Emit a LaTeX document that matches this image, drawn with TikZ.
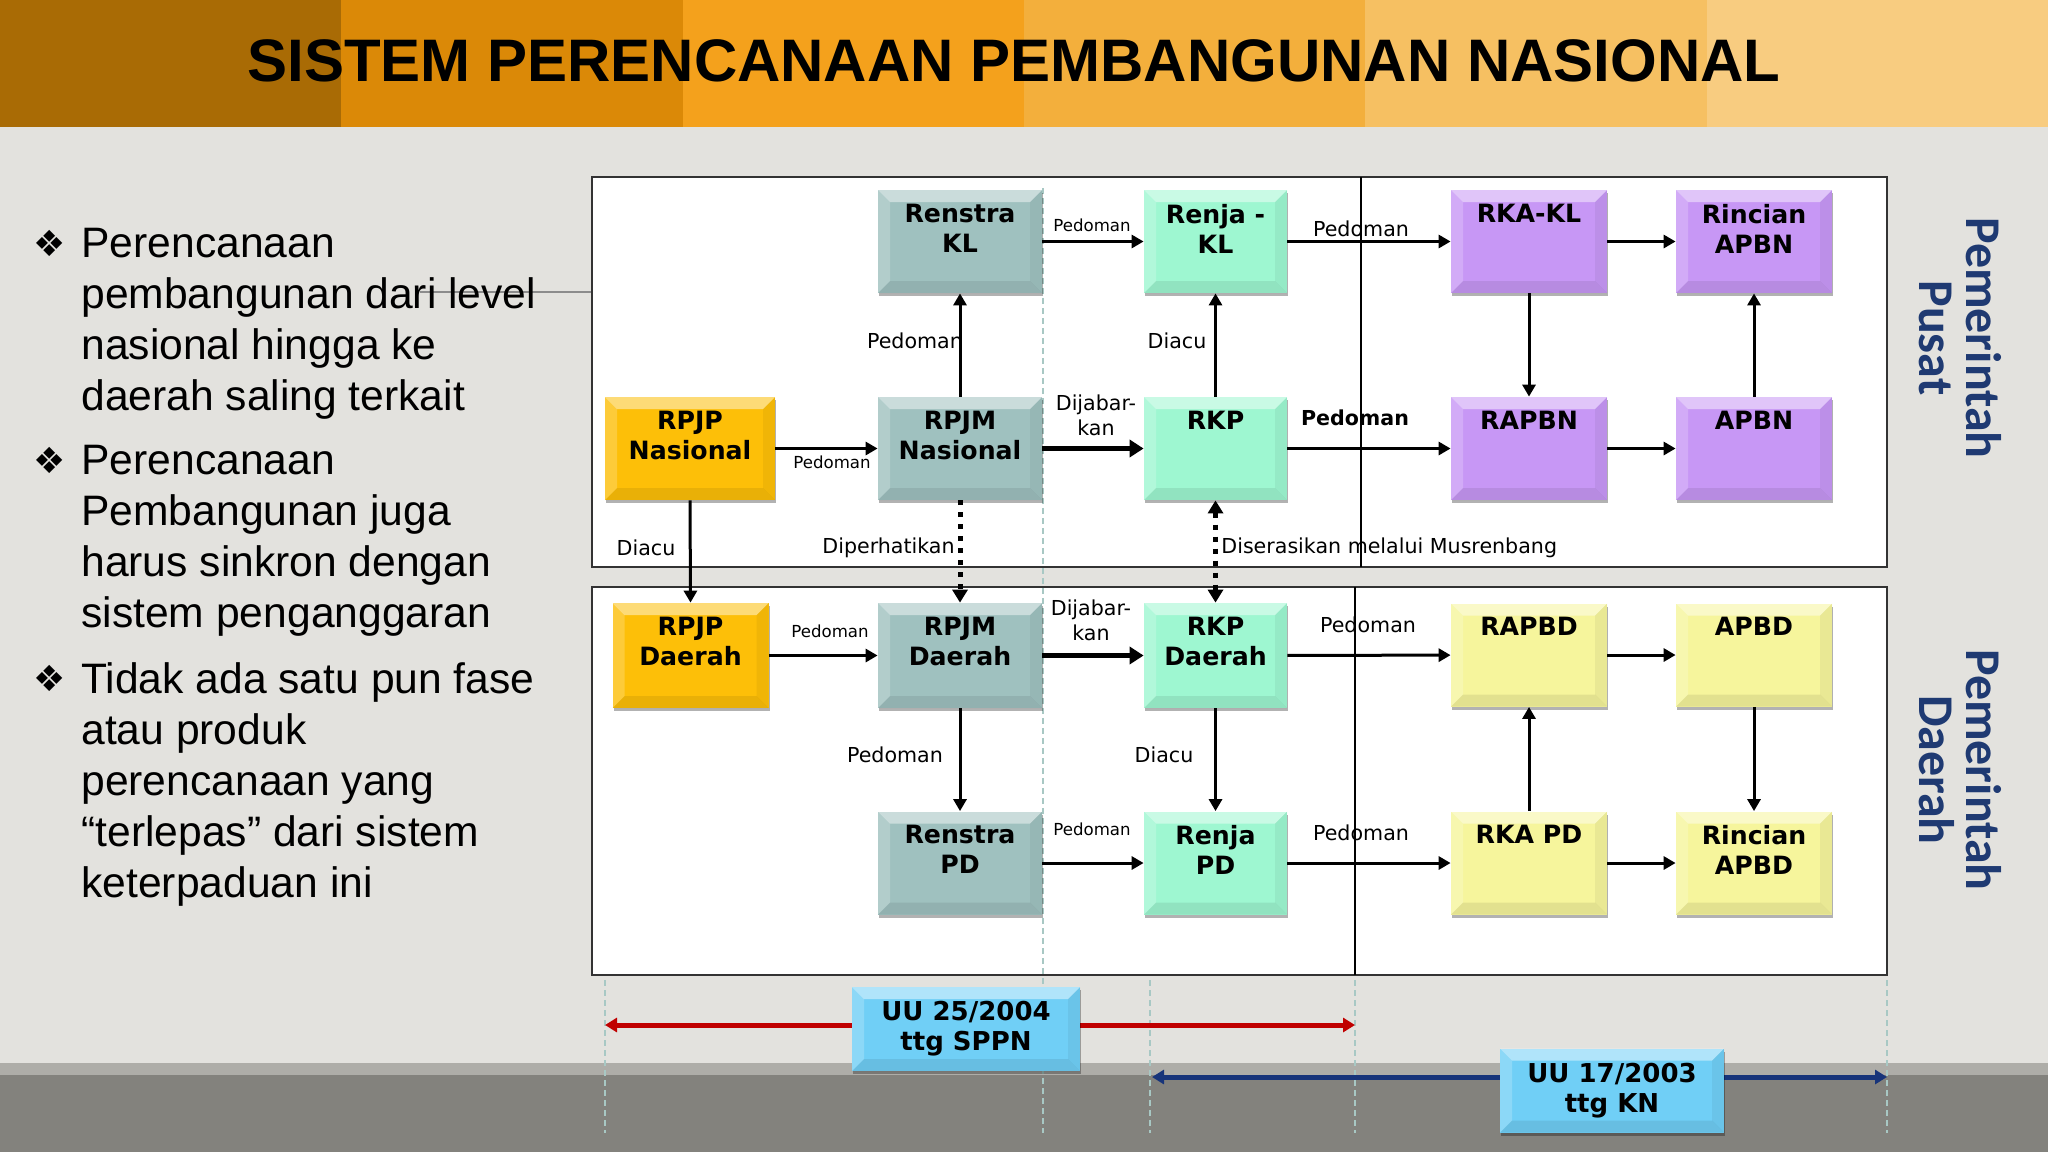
\documentclass[tikz,border=0pt]{standalone}
\usepackage{fontspec}
\setmainfont{DejaVu Sans}
\newfontfamily\arialfont{Liberation Sans}
\newfontfamily\sidefont{Carlito}
\usetikzlibrary{arrows.meta,shadows}

\definecolor{bandA}{HTML}{A96B05}
\definecolor{bandB}{HTML}{DB8907}
\definecolor{bandC}{HTML}{F4A11C}
\definecolor{bandD}{HTML}{F3AF3C}
\definecolor{bandE}{HTML}{F6C062}
\definecolor{bandF}{HTML}{F8CC80}
\definecolor{bggray}{HTML}{E3E2DE}
\definecolor{footlight}{HTML}{AEADA8}
\definecolor{footdark}{HTML}{83827D}
\definecolor{goldbox}{HTML}{FDBF08}
\definecolor{tealbox}{HTML}{9FC1BF}
\definecolor{mintbox}{HTML}{9EF7D1}
\definecolor{lilabox}{HTML}{C797F5}
\definecolor{lemonbox}{HTML}{F6F59C}
\definecolor{skybox}{HTML}{70CFF6}
\definecolor{navytxt}{HTML}{1F3A72}
\definecolor{guide}{HTML}{A8C8C4}
\definecolor{redarr}{HTML}{C00000}
\definecolor{bluearr}{HTML}{17347A}

\tikzset{
  bevel/.style={path picture={
      \fill[white,opacity=.45] (path picture bounding box.north west) -- (path picture bounding box.north east)
        -- ([shift={(-6pt,-6pt)}]path picture bounding box.north east) -- ([shift={(6pt,-6pt)}]path picture bounding box.north west) -- cycle;
      \fill[white,opacity=.2] (path picture bounding box.north west) -- ([shift={(6pt,-6pt)}]path picture bounding box.north west)
        -- ([shift={(6pt,6pt)}]path picture bounding box.south west) -- (path picture bounding box.south west) -- cycle;
      \fill[black,opacity=.05] (path picture bounding box.north east) -- ([shift={(-6pt,-6pt)}]path picture bounding box.north east)
        -- ([shift={(-6pt,6pt)}]path picture bounding box.south east) -- (path picture bounding box.south east) -- cycle;
      \fill[black,opacity=.08] (path picture bounding box.south west) -- (path picture bounding box.south east)
        -- ([shift={(-6pt,6pt)}]path picture bounding box.south east) -- ([shift={(6pt,6pt)}]path picture bounding box.south west) -- cycle;
  }},
  box/.style={rectangle, fill=#1, bevel, inner sep=0pt, minimum height=51.5pt,
    drop shadow={shadow xshift=0.6pt, shadow yshift=-1.6pt, opacity=0.3, fill=black}},
  boxN/.style={minimum width=82pt},
  boxR/.style={minimum width=71.5pt},
  boxB/.style={minimum width=78pt},
  boxlbl/.style={anchor=north, yshift=-7pt, align=center, inner sep=0pt,
    font=\bfseries\fontsize{12.6}{15}\selectfont},
  uubox/.style={box=skybox, minimum height=42pt, align=center,
    font=\bfseries\fontsize{13}{15}\selectfont},
  arr/.style={-{Triangle[length=6pt,width=6.5pt]}, line width=1.5pt},
  arrthick/.style={-{Triangle[length=7pt,width=8.5pt]}, line width=2.6pt},
  arrdot/.style={-{Triangle[length=6.5pt,width=7.5pt]}, line width=2.5pt, dash pattern=on 2.5pt off 3.5pt},
  lbl/.style={inner sep=0pt, font=\fontsize{10.3}{12.5}\selectfont},
  lblsm/.style={inner sep=0pt, font=\fontsize{8.3}{10}\selectfont},
  panel/.style={draw=black!80, line width=1pt, fill=white},
  guideline/.style={draw=guide, line width=0.6pt, dash pattern=on 3pt off 2pt},
  bullettxt/.style={anchor=north west, inner sep=0pt, align=left,
    font=\arialfont\fontsize{21.3}{25.5}\selectfont},
  bul/.style={inner sep=0pt, font=\fontsize{18}{18}\selectfont},
  sidelbl/.style={rotate=-90, align=center, inner sep=0pt, text=navytxt,
    font=\sidefont\bfseries\fontsize{25}{23.5}\selectfont},
}

\begin{document}
\begin{tikzpicture}[x=0.5pt,y=-0.5pt]
  \useasboundingbox (0,0) rectangle (2048,1152);
  % background and title band
  \fill[bggray] (0,0) rectangle (2048,1152);
  \fill[footlight] (0,1063) rectangle (2048,1075);
  \fill[footdark] (0,1075) rectangle (2048,1152);
  \foreach \c [count=\i from 0] in {bandA,bandB,bandC,bandD,bandE,bandF}
    \fill[\c] (341.33*\i,0) rectangle (341.33*\i+341.33,127);
  \node[font=\arialfont\bfseries\fontsize{30}{30}\selectfont, inner sep=0pt] (title) at (1014,61)
    {SISTEM PERENCANAAN PEMBANGUNAN NASIONAL};

  % left text
  \draw[black!45, line width=0.6pt] (420,292) -- (592,292);
  \node[bul] (bulA) at (50,243) {❖};
  \node[bul] (bulB) at (50,460) {❖};
  \node[bul] (bulC) at (50,678) {❖};
  \node[bullettxt] (txtA) at (81,228) {Perencanaan\\pembangunan dari level\\nasional hingga ke\\daerah saling terkait};
  \node[bullettxt] (txtB) at (81,445) {Perencanaan\\Pembangunan juga\\harus sinkron dengan\\sistem penganggaran};
  \node[bullettxt] (txtC) at (81,662) {Tidak ada satu pun fase\\atau produk\\perencanaan yang\\“terlepas” dari sistem\\keterpaduan ini};

  % panels
  \draw[panel] (592,177) rectangle (1887,567);
  \draw[panel] (592,587) rectangle (1887,975);
  \draw[black, line width=0.6pt] (1361,177) -- (1361,567);
  \draw[black, line width=0.6pt] (1355,587) -- (1355,975);
  \draw[guideline] (1043,188) -- (1043,1133);
  \foreach \gx in {605,1150,1355,1887}
    \draw[guideline] (\gx,980) -- (\gx,1133);

  \node[sidelbl] (sideP) at (1960,338) {Pemerintah\\Pusat};
  \node[sidelbl] (sideD) at (1960,770) {Pemerintah\\Daerah};

  % boxes, pusat
  \node[box=goldbox, minimum width=85pt, label={[boxlbl]north:RPJP\\Nasional}] (rpjpN) at (690,448.5) {};
  \node[box=tealbox, boxN, label={[boxlbl]north:RPJM\\Nasional}] (rpjmN) at (960,448.5) {};
  \node[box=tealbox, boxN, label={[boxlbl]north:Renstra\\KL}] (renstraKL) at (960,241.5) {};
  \node[box=mintbox, boxR, label={[boxlbl]north:Renja -\\KL}] (renjaKL) at (1215.5,241.5) {};
  \node[box=mintbox, boxR, label={[boxlbl]north:RKP}] (rkp) at (1215.5,448.5) {};
  \node[box=lilabox, boxB, label={[boxlbl]north:RKA-KL}] (rkakl) at (1529,241.5) {};
  \node[box=lilabox, boxB, label={[boxlbl]north:Rincian\\APBN}] (rincianN) at (1754,241.5) {};
  \node[box=lilabox, boxB, label={[boxlbl]north:RAPBN}] (rapbn) at (1529,448.5) {};
  \node[box=lilabox, boxB, label={[boxlbl]north:APBN}] (apbn) at (1754,448.5) {};

  % boxes, daerah
  \node[box=goldbox, boxB, minimum height=52.5pt, label={[boxlbl]north:RPJP\\Daerah}] (rpjpD) at (690.5,655.5) {};
  \node[box=tealbox, boxN, minimum height=52.5pt, label={[boxlbl]north:RPJM\\Daerah}] (rpjmD) at (960,655.5) {};
  \node[box=tealbox, boxN, label={[boxlbl]north:Renstra\\PD}] (renstraPD) at (960,863) {};
  \node[box=mintbox, boxR, minimum height=52.5pt, label={[boxlbl]north:RKP\\Daerah}] (rkpD) at (1215.5,655.5) {};
  \node[box=mintbox, boxR, label={[boxlbl]north:Renja\\PD}] (renjaPD) at (1215.5,863) {};
  \node[box=lemonbox, boxB, label={[boxlbl]north:RAPBD}] (rapbd) at (1529,655) {};
  \node[box=lemonbox, boxB, label={[boxlbl]north:APBD}] (apbd) at (1754,655) {};
  \node[box=lemonbox, boxB, label={[boxlbl]north:RKA PD}] (rkapd) at (1529,863) {};
  \node[box=lemonbox, boxB, label={[boxlbl]north:Rincian\\APBD}] (rincianD) at (1754,863) {};

  % connectors, pusat
  \draw[arr] (rpjpN) -- (rpjmN);
  \draw[arr] (rpjmN) -- (renstraKL);
  \draw[arr] (renstraKL) -- (renjaKL);
  \draw[arr] (rkp) -- (renjaKL);
  \draw[arrthick] (rpjmN) -- (rkp);
  \draw[arr] (renjaKL) -- (rkakl);
  \draw[arr] (rkp) -- (rapbn);
  \draw[arr] (rkakl) -- (rincianN);
  \draw[arr] (rkakl) -- (rapbn);
  \draw[arr] (rapbn) -- (apbn);
  \draw[arr] (apbn) -- (rincianN);
  % between the levels
  \draw[arr] (rpjpN.south) -- (rpjpD.north);
  \draw[arrdot] (rpjmN) -- (rpjmD);
  \draw[arrdot, {Triangle[length=6.5pt,width=7.5pt]}-{Triangle[length=6.5pt,width=7.5pt]}] (rkp) -- (rkpD);
  % connectors, daerah
  \draw[arr] (rpjpD) -- (rpjmD);
  \draw[arrthick] (rpjmD) -- (rkpD);
  \draw[arr] (rkpD) -- (rapbd);
  \draw[arr] (rpjmD) -- (renstraPD);
  \draw[arr] (rkpD) -- (renjaPD);
  \draw[arr] (renstraPD) -- (renjaPD);
  \draw[arr] (renjaPD) -- (rkapd);
  \draw[arr] (rkapd) -- (rapbd);
  \draw[arr] (rapbd) -- (apbd);
  \draw[arr] (apbd) -- (rincianD);
  \draw[arr] (rkapd) -- (rincianD);

  % connector labels
  \node[lblsm] (tA) at (832,462) {Pedoman};
  \node[lbl] (tB) at (915,341) {Pedoman};
  \node[lblsm] (tC) at (1092,225) {Pedoman};
  \node[lbl] (tD) at (1177,341) {Diacu};
  \node[lbl, align=center] (tE) at (1096,415) {Dijabar-\\kan};
  \node[lbl] (tF) at (1361,229) {Pedoman};
  \node[lbl, font=\bfseries\fontsize{10.3}{12.5}\selectfont] (tG) at (1355,418) {Pedoman};
  \node[lbl] (tH) at (646,548) {Diacu};
  \node[lbl, anchor=east] (tI) at (955,548) {Diperhatikan};
  \node[lbl, anchor=west] (tJ) at (1221,548) {Diserasikan melalui Musrenbang};
  \node[lblsm] (tK) at (830,631) {Pedoman};
  \node[lbl, align=center] (tL) at (1091,620) {Dijabar-\\kan};
  \node[lbl] (tM) at (1368,625) {Pedoman};
  \node[lbl] (tN) at (895,755) {Pedoman};
  \node[lbl] (tO) at (1164,755) {Diacu};
  \node[lblsm] (tP) at (1092,829) {Pedoman};
  \node[lbl] (tQ) at (1361,833) {Pedoman};

  % laws
  \coordinate (redL) at (605,1025);
  \coordinate (redR) at (1355,1025);
  \coordinate (blueL) at (1152,1077);
  \coordinate (blueR) at (1887,1077);
  \draw[redarr, line width=2.5pt, {Triangle[length=6pt,width=7pt]}-{Triangle[length=6pt,width=7pt]}] (redL) -- (redR);
  \draw[bluearr, line width=2.5pt, {Triangle[length=6pt,width=7pt]}-{Triangle[length=6pt,width=7pt]}] (blueL) -- (blueR);
  \node[uubox, minimum width=114pt] (uu25) at (966,1029) {UU 25/2004\\ttg SPPN};
  \node[uubox, minimum width=112pt] (uu17) at (1612,1090.5) {UU 17/2003\\ttg KN};
\end{tikzpicture}
\end{document}
